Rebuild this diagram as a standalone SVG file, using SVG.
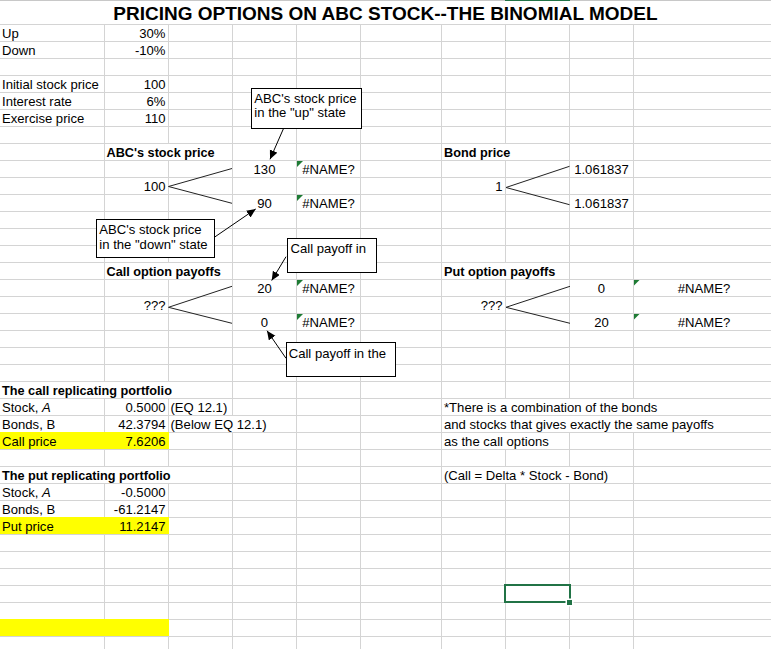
<svg xmlns="http://www.w3.org/2000/svg" width="771" height="649" viewBox="0 0 771 649">
<style>
text{font-family:"Liberation Sans",Arial,sans-serif;font-size:13.1px;fill:#000}
.b{font-weight:bold;font-size:12.7px}
.r{text-anchor:end}
.c{text-anchor:middle}
.grid{stroke:#d4d4d4;stroke-width:1;fill:none}
.tree{stroke:#222;stroke-width:1;fill:none}
.arr{stroke:#000;stroke-width:1;fill:none;marker-end:url(#ah)}
.box{fill:#fff;stroke:#000;stroke-width:1}
.yel{fill:#ffff00}
.err{fill:#1e7b34}
</style>
<defs>
<marker id="ah" markerUnits="userSpaceOnUse" markerWidth="10" markerHeight="9" refX="9" refY="4" orient="auto">
<path d="M0,0 L9,4 L0,8 z" fill="#000"/>
</marker>
</defs>
<rect width="771" height="649" fill="#fff"/>
<g id="grid">
<rect x="0" y="0" width="771" height="1" fill="#c8c8c8"/>
<rect x="505" y="0" width="65" height="1" fill="#217346"/>
<path class="grid" d="M0 24.5H771M0 41.5H771M0 58.5H771M0 75.5H771M0 92.5H771M0 109.5H771M0 126.5H771M0 143.5H771M0 160.5H771M0 177.5H771M0 194.5H771M0 211.5H771M0 228.5H771M0 245.5H771M0 262.5H771M0 279.5H771M0 296.5H771M0 313.5H771M0 330.5H771M0 347.5H771M0 364.5H771M0 381.5H771M0 398.5H771M0 415.5H771M0 432.5H771M0 449.5H771M0 466.5H771M0 483.5H771M0 500.5H771M0 517.5H771M0 534.5H771M0 551.5H771M0 568.5H771M0 585.5H771M0 602.5H771M0 619.5H771M0 636.5H771"/>
<path class="grid" d="M104.5 24V382M104.5 398V467M104.5 483V649
M168.5 24V144M168.5 160V263M168.5 279V382M168.5 398V467M168.5 483V649
M232.5 24V416M232.5 432V649
M296.5 24V649M360.5 24V649M441.5 24V649
M505.5 24V144M505.5 160V263M505.5 279V399M505.5 449V467M505.5 483V649
M569.5 24V399M569.5 432V467M569.5 483V649
M633.5 24V399M633.5 432V649"/>
<rect class="yel" x="0" y="432" width="169" height="17"/>
<rect class="yel" x="0" y="517" width="169" height="17"/>
<rect class="yel" x="0" y="619" width="169" height="17"/>
</g>
<g id="title">
<text x="113.3" y="20" style="font-size:19px;font-weight:bold">PRICING OPTIONS ON ABC STOCK--THE BINOMIAL MODEL</text>
</g>
<g id="inputs">
<text x="2" y="38">Up</text><text class="r" x="165.5" y="38">30%</text>
<text x="2" y="55">Down</text><text class="r" x="165.5" y="55">-10%</text>
<text x="2" y="89">Initial stock price</text><text class="r" x="165.5" y="89">100</text>
<text x="2" y="106">Interest rate</text><text class="r" x="165.5" y="106">6%</text>
<text x="2" y="123">Exercise price</text><text class="r" x="165.5" y="123">110</text>
</g>
<g id="stock-tree">
<text class="b" x="106.5" y="157">ABC's stock price</text>
<text class="r" x="165.5" y="191">100</text>
<text class="c" x="264.5" y="174">130</text>
<text class="c" x="264.5" y="208">90</text>
<path class="err" d="M297 161H303L297 167z"/><text class="c" x="328.5" y="174">#NAME?</text>
<path class="err" d="M297 195H303L297 201z"/><text class="c" x="328.5" y="208">#NAME?</text>
</g>
<g id="bond-tree">
<text class="b" x="444" y="157">Bond price</text>
<text class="r" x="502.5" y="191">1</text>
<text class="c" x="601.5" y="174">1.061837</text>
<text class="c" x="601.5" y="208">1.061837</text>
</g>
<g id="call-tree">
<text class="b" x="106.5" y="276">Call option payoffs</text>
<text class="r" x="165.5" y="310">???</text>
<text class="c" x="264.5" y="293">20</text>
<text class="c" x="264.5" y="327">0</text>
<path class="err" d="M297 280H303L297 286z"/><text class="c" x="328.5" y="293">#NAME?</text>
<path class="err" d="M297 314H303L297 320z"/><text class="c" x="328.5" y="327">#NAME?</text>
</g>
<g id="put-tree">
<text class="b" x="444" y="276">Put option payoffs</text>
<text class="r" x="502.5" y="310">???</text>
<text class="c" x="601.5" y="293">0</text>
<text class="c" x="601.5" y="327">20</text>
<path class="err" d="M634 280H639.5L634 285.5z"/><text class="c" x="704" y="293">#NAME?</text>
<path class="err" d="M634 314H639.5L634 319.5z"/><text class="c" x="704" y="327">#NAME?</text>
</g>
<g id="call-portfolio">
<text class="b" x="2" y="395">The call replicating portfolio</text>
<text x="2" y="412">Stock, <tspan font-style="italic">A</tspan></text><text class="r" x="165.5" y="412">0.5000</text><text x="170.5" y="412">(EQ 12.1)</text>
<text x="2" y="429">Bonds, B</text><text class="r" x="165.5" y="429">42.3794</text><text x="170.5" y="429">(Below EQ 12.1)</text>
<text x="2" y="446">Call price</text><text class="r" x="165.5" y="446">7.6206</text>
</g>
<g id="put-portfolio">
<text class="b" x="2" y="480">The put replicating portfolio</text>
<text x="2" y="497">Stock, <tspan font-style="italic">A</tspan></text><text class="r" x="165.5" y="497">-0.5000</text>
<text x="2" y="514">Bonds, B</text><text class="r" x="165.5" y="514">-61.2147</text>
<text x="2" y="531">Put price</text><text class="r" x="165.5" y="531">11.2147</text>
</g>
<g id="note">
<text x="444" y="412">*There is a combination of the bonds</text>
<text x="444" y="429">and stocks that gives exactly the same payoffs</text>
<text x="444" y="446">as the call options</text>
<text x="444" y="480">(Call = Delta * Stock - Bond)</text>
</g>
<g id="connectors">
<path class="tree" d="M232 168.5L168.5 186.5L232 203.3"/>
<path class="tree" d="M569.5 166.3L506 187.5L569.5 204.7"/>
<path class="tree" d="M232 286.3L168.5 307.3L232 323.3"/>
<path class="tree" d="M570 286.3L506 307.3L570 323.3"/>
<line class="arr" x1="283.3" y1="129" x2="270" y2="159.3"/>
<line class="arr" x1="214.3" y1="237.3" x2="255.7" y2="209"/>
<line class="arr" x1="286" y1="256.7" x2="271.7" y2="280.5"/>
<line class="arr" x1="286" y1="358.3" x2="267" y2="330.7"/>
</g>
<g id="callout-up">
<rect class="box" x="251.5" y="88.5" width="110" height="40"/>
<text x="254.3" y="102.5">ABC's stock price</text>
<text x="254.3" y="117.3">in the "up" state</text>
</g>
<g id="callout-down">
<rect class="box" x="96.5" y="219.5" width="118" height="38"/>
<text x="99.3" y="234">ABC's stock price</text>
<text x="99.3" y="249">in the "down" state</text>
</g>
<g id="callout-call-up">
<rect class="box" x="287.5" y="238.5" width="89" height="34"/>
<text x="290.5" y="253">Call payoff in</text>
</g>
<g id="callout-call-down">
<rect class="box" x="286.5" y="342.5" width="109" height="34"/>
<text x="288.7" y="357.5">Call payoff in the</text>
</g>
<g id="selection">
<rect x="505" y="585" width="65" height="17" fill="none" stroke="#217346" stroke-width="2"/>
<rect x="565.5" y="598.5" width="8" height="8" fill="#fff"/>
<rect x="567" y="600" width="5" height="5" fill="#217346"/>
</g>
</svg>
